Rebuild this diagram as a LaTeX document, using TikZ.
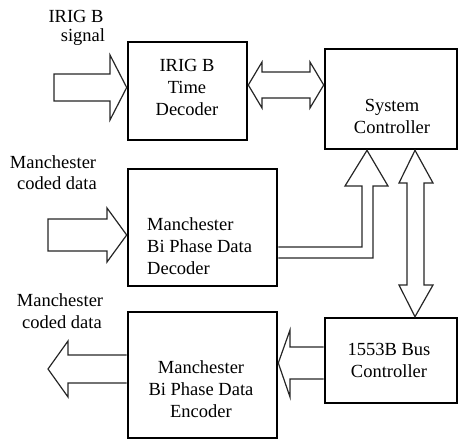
\documentclass[tikz,border=0pt]{standalone}
\usepackage{fontspec}
\setmainfont{Liberation Serif}
\begin{document}
\begin{tikzpicture}[x=1pt,y=-1pt,
  box/.style={draw=black,line width=2.6pt,minimum width=#1,inner sep=0pt},
  lbl/.style={font=\fontsize{18.5}{22}\selectfont,inner sep=0pt,align=center},
  barrow/.style={draw=black!85,line width=1.2pt,line join=miter,fill=white}]
\useasboundingbox (0,0) rectangle (468,440);
% boxes
\node[box=119pt,minimum height=98pt]  (irig) at (187.5,91) {};
\node[box=132pt,minimum height=100pt] (sc)   at (391,99) {};
\node[box=149pt,minimum height=117pt] (dec)  at (202.5,227.5) {};
\node[box=149pt,minimum height=126pt] (enc)  at (202.5,375) {};
\node[box=132pt,minimum height=85pt]  (bus)  at (391,360.5) {};
% box texts
\node[lbl] (tirig) at (187,87) {IRIG B\\Time\\Decoder};
\node[lbl] (tsc)   at (392,116.5) {System\\Controller};
\node[lbl,align=left,anchor=west] (tdec) at (147,246.5) {Manchester\\Bi Phase Data\\Decoder};
\node[lbl] (tenc)  at (201,389.5) {Manchester\\Bi Phase Data\\Encoder};
\node[lbl] (tbus)  at (389,360.5) {1553B Bus\\Controller};
% outside labels
\node[lbl] (l1a) at (76,16) {IRIG B};
\node[lbl] (l1b) at (83,37) {signal};
\node[lbl] (l2a) at (53,162) {Manchester};
\node[lbl] (l2b) at (57,183) {coded data};
\node[lbl] (l3a) at (60,300) {Manchester};
\node[lbl] (l3b) at (62,322) {coded data};
% block arrows
% IRIG B input
\draw[barrow] (54,74) -- (110,74) -- (110,55) -- (irig.west |- 0,87.5) -- (110,120) -- (110,101) -- (54,101) -- cycle;
% IRIG decoder <-> system controller
\draw[barrow] (irig.east |- 0,85) -- (262,62) -- (262,72) -- (310,72) -- (310,62) -- (sc.west |- 0,85) -- (310,108) -- (310,98) -- (262,98) -- (262,108) -- cycle;
% Manchester coded data input
\draw[barrow] (48,219) -- (107,219) -- (107,208) -- (dec.west |- 0,235) -- (107,262) -- (107,251) -- (48,251) -- cycle;
% decoder -> system controller (bent)
\draw[barrow,fill=none] (dec.east |- 0,247) -- (362,247) -- (362,186) -- (345,186) -- (sc.south -| 367,0) -- (388,186) -- (373,186) -- (373,258) -- (dec.east |- 0,258);
% system controller <-> bus controller
\draw[barrow] (sc.south -| 415,0) -- (433,183) -- (424,183) -- (424,285) -- (433,285) -- (bus.north -| 415,0) -- (399,285) -- (407,285) -- (407,183) -- (399,183) -- cycle;
% bus controller -> encoder
\draw[barrow,fill=none] (bus.west |- 0,347) -- (290,347) -- (290,330) -- (enc.east |- 0,363) -- (290,397) -- (290,379) -- (bus.west |- 0,379);
% encoder output
\draw[barrow,fill=none] (enc.west |- 0,355) -- (68,355) -- (68,341) -- (48,369) -- (68,397) -- (68,383) -- (enc.west |- 0,383);
\end{tikzpicture}
\end{document}
